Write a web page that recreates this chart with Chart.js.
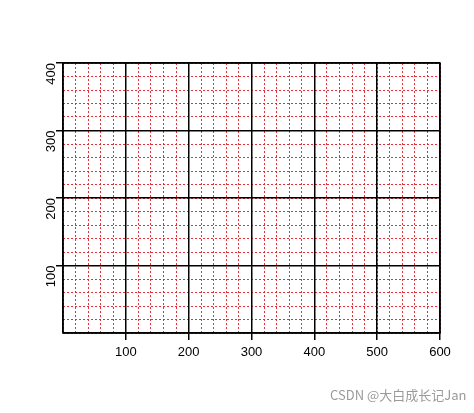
<!DOCTYPE html>
<html>
<head>
<meta charset="utf-8">
<script src="https://cdn.jsdelivr.net/npm/chart.js@4"></script>
<style>
  body { margin: 0; background: #fff; }
  #wrap { position: relative; width: 474px; height: 413px; }
  #mark { position: absolute; left: 330px; top: 385px; white-space: nowrap; font: 13px "Noto Sans CJK SC", sans-serif; color: #9a9a9a; }
</style>
</head>
<body>
<div id="wrap">
  <canvas id="c" width="474" height="413"></canvas>
  <div id="mark">CSDN @大白成长记Jan</div>
</div>
<script>
// axis ranges and tick labels
const xRange = [0, 600]
const yRange = [0, 400]
const xTicks = [100, 200, 300, 400, 500, 600]
const yTicks = [100, 200, 300, 400]
const minorStep = 20

const boxPlugin = {
  id: 'box',
  afterDraw(chart) {
    const a = chart.chartArea, ctx = chart.ctx
    ctx.save()
    ctx.strokeStyle = '#000'
    ctx.lineWidth = 1.5
    ctx.strokeRect(a.left, a.top, a.right - a.left, a.bottom - a.top)
    ctx.restore()
  }
}

const minorAxis = (pos) => ({
  type: 'linear', position: pos, z: 0,
  min: pos === 'bottom' ? xRange[0] : yRange[0],
  max: pos === 'bottom' ? xRange[1] : yRange[1],
  ticks: { display: false, stepSize: minorStep },
  border: { display: false, dash: [2, 2] },
  grid: { color: '#e8303a', lineWidth: 1, drawTicks: false, tickLength: 0 },
  afterFit(s) { if (pos === 'bottom') s.height = 0; else s.width = 0 }
})

const majorGrid = {
  color: '#000', lineWidth: 1.5, tickLength: 7,
  tickColor: ctx => ctx.tick && ctx.tick.value === 0 ? 'rgba(0,0,0,0)' : '#000'
}

new Chart(document.getElementById('c'), {
  type: 'scatter',
  data: { datasets: [{ data: [] }] },
  options: {
    responsive: false,
    animation: false,
    layout: { padding: { left: 0, right: 34, top: 63, bottom: 0 } },
    plugins: { legend: { display: false }, tooltip: { enabled: false } },
    scales: {
      xm: minorAxis('bottom'),
      ym: minorAxis('left'),
      x: {
        type: 'linear', position: 'bottom', z: 1,
        min: xRange[0], max: xRange[1],
        afterBuildTicks(s) { s.ticks = [{ value: 0 }].concat(xTicks.map(v => ({ value: v }))) },
        ticks: {
          color: '#000', font: { family: 'Liberation Sans', size: 13 }, padding: 5,
          callback: v => xTicks.includes(v) ? String(v) : ''
        },
        border: { display: false },
        grid: majorGrid,
        afterFit(s) { s.height = 80 }
      },
      y: {
        type: 'linear', position: 'left', z: 1,
        min: yRange[0], max: yRange[1],
        afterBuildTicks(s) { s.ticks = [{ value: 0 }].concat(yTicks.map(v => ({ value: v }))) },
        ticks: {
          color: '#000', font: { family: 'Liberation Sans', size: 13 }, padding: 5,
          minRotation: 90, maxRotation: 90,
          callback: v => yTicks.includes(v) ? String(v) : ''
        },
        border: { display: false },
        grid: majorGrid,
        afterFit(s) { s.width = 63 }
      }
    }
  },
  plugins: [boxPlugin]
})
</script>
</body>
</html>
